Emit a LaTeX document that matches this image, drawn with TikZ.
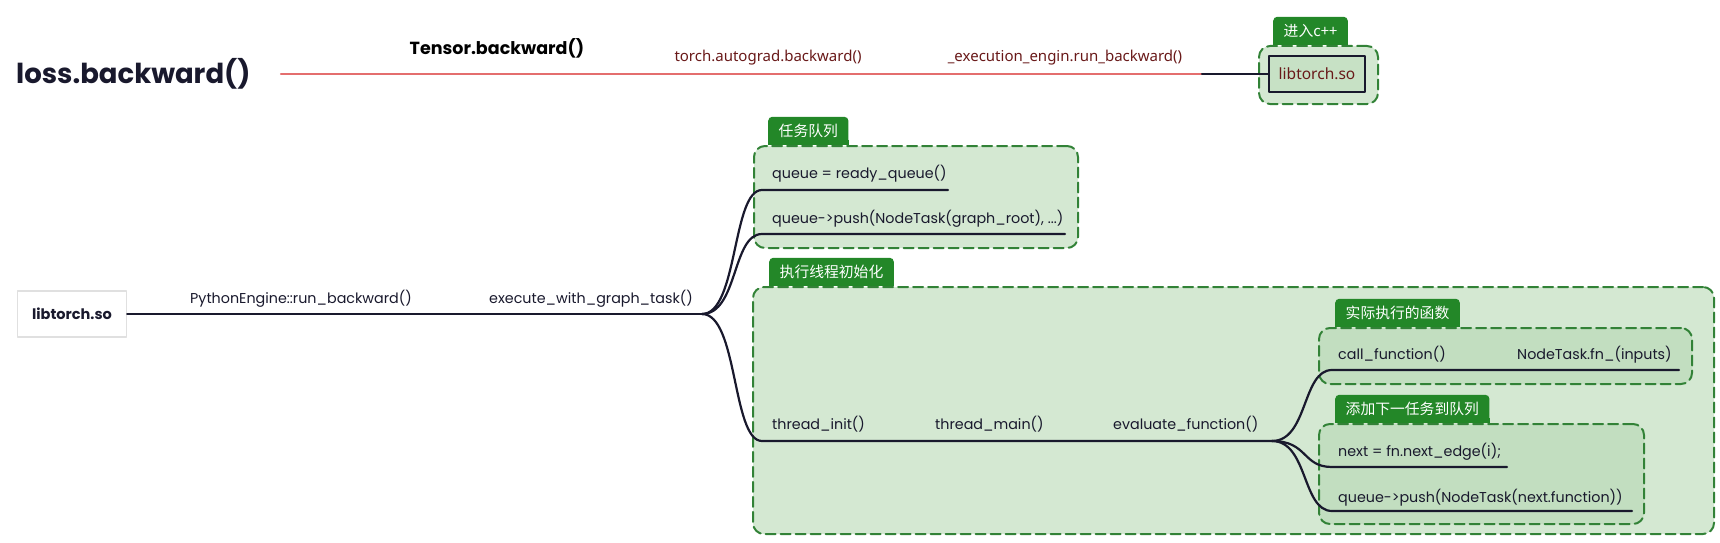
\documentclass[tikz,border=0pt]{standalone}
\usepackage{fontspec}
\setmainfont{Poppins}
\newfontfamily\cjkfont{Noto Sans CJK SC}
\newfontfamily\narrowfont{Noto Sans}
\definecolor{ink}{RGB}{25,25,45}
\definecolor{tabgreen}{RGB}{35,135,40}
\definecolor{boxline}{RGB}{50,130,55}
\definecolor{outerfill}{RGB}{212,232,210}
\definecolor{innerfill}{RGB}{194,222,192}
\definecolor{redlink}{RGB}{228,110,110}
\definecolor{darkred}{RGB}{105,25,25}
\tikzset{groupbox/.style={draw=boxline,line width=2pt,dash pattern=on 10pt off 5pt,
   rounded corners=11pt,anchor=north west,inner sep=0pt},
 grouptab/.style={fill=tabgreen,text=white,font=\cjkfont\fontsize{14.8}{15}\selectfont,
   rounded corners=4pt,anchor=south west,minimum height=28pt,inner xsep=10.5pt,inner ysep=0pt},
 calltext/.style={anchor=base west,inner sep=0pt,text=ink,font=\fontsize{14.3}{14}\selectfont},
 toptext/.style={anchor=base,inner sep=0pt,text=darkred,font=\narrowfont\fontsize{15}{15}\selectfont},
 link/.style={draw=ink,line width=2.2pt},
 every picture/.style={line join=round,line cap=round}}

\begin{document}
\begin{tikzpicture}[x=1pt,y=-1pt]
\useasboundingbox (0,0) rectangle (1720,543);
% python side
\node[anchor=west,inner sep=0pt,text=ink,font=\bfseries\fontsize{27.5}{28}\selectfont] (loss) at (16,74) {loss.backward()};
\node[anchor=base,inner sep=0pt,text=black,font=\bfseries\fontsize{17.5}{18}\selectfont] (tensorbw) at (497,55) {Tensor.backward()};
\node[toptext] (autogradbw) at (768,61) {torch.autograd.backward()};
\node[toptext] (enginebw) at (1065,61) {\_execution\_engin.run\_backward()};
\node[groupbox,fill=outerfill,minimum width=119,minimum height=58] (cppbox) at (1258,45) {};
\node[grouptab] (cpptab) at ([xshift=15pt]cppbox.north west) {进入c++};
\fill[tabgreen] ([yshift=5pt]cpptab.south west) rectangle (cpptab.south east);
\node[draw=ink,line width=1.5pt,fill=innerfill!70!outerfill,minimum width=96,minimum height=36,
  text=darkred,font=\narrowfont\fontsize{15.5}{16}\selectfont] (libtop) at (1317,74) {libtorch.so};
\coordinate (redstart) at (281,74);
\coordinate (redend) at (1202,74);
\draw[redlink,line width=2.2pt] (redstart) -- (redend);
\draw[link] (redend) -- (libtop.west);

% c++ side: boxes first
\node[groupbox,fill=outerfill,minimum width=324,minimum height=102] (queuebox) at (753,145) {};
\node[grouptab] (queuetab) at ([xshift=15pt]queuebox.north west) {任务队列};
\fill[tabgreen] ([yshift=5pt]queuetab.south west) rectangle (queuetab.south east);
\node[groupbox,fill=outerfill,minimum width=961,minimum height=247] (threadbox) at (752,286) {};
\node[grouptab] (threadtab) at ([xshift=17pt]threadbox.north west) {执行线程初始化};
\fill[tabgreen] ([yshift=5pt]threadtab.south west) rectangle (threadtab.south east);
\node[groupbox,fill=innerfill,minimum width=373,minimum height=56] (callbox) at (1318,327) {};
\node[grouptab] (calltab) at ([xshift=17pt]callbox.north west) {实际执行的函数};
\fill[tabgreen] ([yshift=5pt]calltab.south west) rectangle (calltab.south east);
\node[groupbox,fill=innerfill,minimum width=325,minimum height=100] (nextbox) at (1318,423) {};
\node[grouptab] (nexttab) at ([xshift=17pt]nextbox.north west) {添加下一任务到队列};
\fill[tabgreen] ([yshift=5pt]nexttab.south west) rectangle (nexttab.south east);

% root and call texts
\node[draw=black!12,line width=1.5pt,fill=white,minimum width=109,minimum height=46,text=ink,
  font=\bfseries\fontsize{14.5}{14}\selectfont] (libleft) at (72,314) {libtorch.so};
\node[calltext] (pyengine) at (190,303) {PythonEngine::run\_backward()};
\node[calltext] (execgraph) at (489,303) {execute\_with\_graph\_task()};
\node[calltext] (readyq) at (772,178) {queue = ready\_queue()};
\node[calltext] (pushroot) at (772,223) {queue->push(NodeTask(graph\_root), ...)};
\node[calltext] (thinit) at (772,429) {thread\_init()};
\node[calltext] (thmain) at (935,429) {thread\_main()};
\node[calltext] (evalfn) at (1113,429) {evaluate\_function()};
\node[calltext] (callfn) at (1338,359) {call\_function()};
\node[calltext] (taskfn) at (1517,359) {NodeTask.fn\_(inputs)};
\node[calltext] (nextedge) at (1338,456) {next = fn.next\_edge(i);};
\node[calltext] (pushnext) at (1338,502) {queue->push(NodeTask(next.function))};

% branch lines
\coordinate (br1) at (702,314);
\coordinate (br2) at (1272,441);
\coordinate (readyend) at (948,190);
\coordinate (rootend) at (1065,234);
\coordinate (callend) at (1679,370);
\coordinate (edgeend) at (1507,467);
\coordinate (nextend) at (1632,511);
\draw[link] (libleft.east) -- (br1);
\draw[link] (br1) .. controls +(36,0) and +(-30,0) .. (762,190) -- (readyend);
\draw[link] (br1) .. controls +(36,0) and +(-30,0) .. (762,234) -- (rootend);
\draw[link] (br1) .. controls +(36,0) and +(-30,0) .. (762,441) -- (br2);
\draw[link] (br2) .. controls +(36,0) and +(-30,0) .. (1332,370) -- (callend);
\draw[link] (br2) .. controls +(36,0) and +(-30,0) .. (1332,467) -- (edgeend);
\draw[link] (br2) .. controls +(36,0) and +(-30,0) .. (1332,511) -- (nextend);
\end{tikzpicture}
\end{document}
